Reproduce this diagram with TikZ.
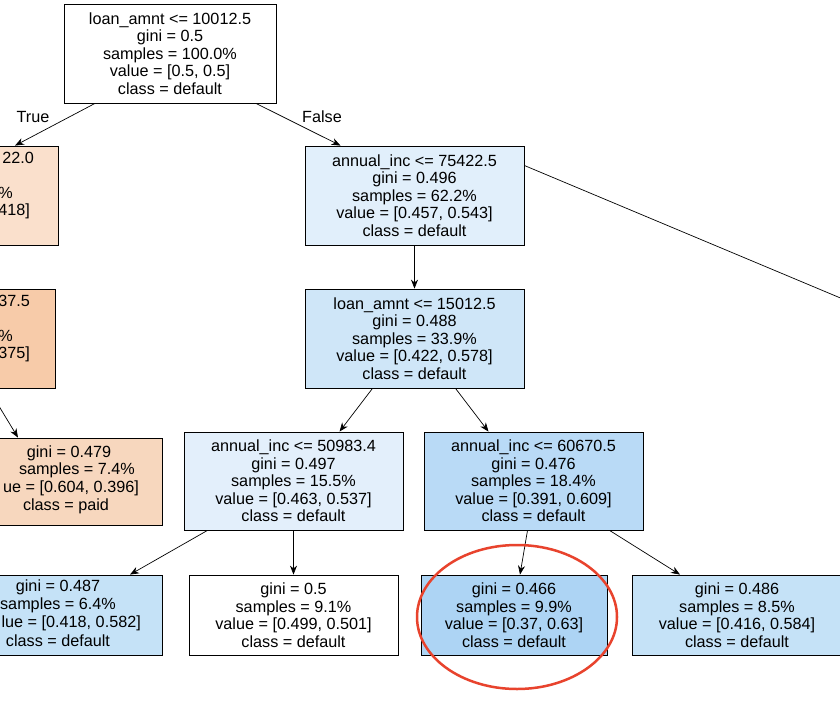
\documentclass[tikz,border=0pt]{standalone}
\usepackage{fontspec}
\setmainfont{Liberation Sans}
\usetikzlibrary{arrows.meta}
\definecolor{pk1}{HTML}{FAE0CC}
\definecolor{pk2}{HTML}{F7CBA9}
\definecolor{pk3}{HTML}{F7D7BE}
\definecolor{bl1}{HTML}{E1EFFB}
\definecolor{bl2}{HTML}{CFE6F8}
\definecolor{bl3}{HTML}{E3EFFB}
\definecolor{bl4}{HTML}{B9DAF6}
\definecolor{bl5}{HTML}{ADD4F4}
\definecolor{bl6}{HTML}{C5E2F7}
\definecolor{ring}{HTML}{E8432D}
\begin{document}
\begin{tikzpicture}[x=1pt,y=-1pt,
  box/.style={draw=black,line width=0.8pt,align=center,inner sep=0pt,font=\fontsize{16.2}{17.5}\selectfont},
  txt/.style={inner sep=0pt,font=\fontsize{16.2}{17.5}\selectfont},
  arr/.style={-{Stealth[length=9pt,width=7pt]},line width=0.7pt}]
\useasboundingbox (0,0) rectangle (840,717);
\clip (0,0) rectangle (840,717);
\fill[white] (0,0) rectangle (840,717);
% root
\node[box,fill=white,minimum width=212pt,minimum height=99pt] (r) at (170,53.5)
 {loan\_amnt <= 10012.5\\gini = 0.5\\samples = 100.0\%\\value = [0.5, 0.5]\\class = default};
% left clipped nodes
\node[box,fill=pk1,minimum width=120pt,minimum height=99pt] (l1) at (-2,195.5) {};
\node[txt,anchor=east] (l1a) at (34,158) {22.0};
\node[txt,anchor=east] (l1b) at (13,193) {\%};
\node[txt,anchor=east] (l1c) at (30,211) {418]};
\node[box,fill=pk2,minimum width=114pt,minimum height=99pt] (l2) at (-2,338.5) {};
\node[txt,anchor=east] (l2a) at (30,301) {37.5};
\node[txt,anchor=east] (l2b) at (13,336) {\%};
\node[txt,anchor=east] (l2c) at (30,354) {375]};
\node[box,fill=pk3,minimum width=200pt,minimum height=87pt] (l3) at (62,481.5) {};
\node[txt] (l3a) at (69,453) {gini = 0.479};
\node[txt,anchor=east] (l3b) at (135,470) {samples = 7.4\%};
\node[txt,anchor=east] (l3c) at (139,488) {ue = [0.604, 0.396]};
\node[txt] (l3d) at (66,506) {class = paid};
\node[box,fill=bl6,minimum width=200pt,minimum height=80pt] (l4) at (62,615) {};
\node[txt] (l4a) at (58,587) {gini = 0.487};
\node[txt] (l4b) at (58,605) {samples = 6.4\%};
\node[txt,anchor=east] (l4c) at (141,623) {lue = [0.418, 0.582]};
\node[txt] (l4d) at (58,641) {class = default};
% main tree
\node[box,fill=bl1,minimum width=219pt,minimum height=99pt] (a) at (414.5,195.5)
 {annual\_inc <= 75422.5\\gini = 0.496\\samples = 62.2\%\\value = [0.457, 0.543]\\class = default};
\node[box,fill=bl2,minimum width=219pt,minimum height=99pt] (b) at (414.5,338.5)
 {loan\_amnt <= 15012.5\\gini = 0.488\\samples = 33.9\%\\value = [0.422, 0.578]\\class = default};
\node[box,fill=bl3,minimum width=219pt,minimum height=98pt] (c) at (293.5,481)
 {annual\_inc <= 50983.4\\gini = 0.497\\samples = 15.5\%\\value = [0.463, 0.537]\\class = default};
\node[box,fill=bl4,minimum width=219pt,minimum height=98pt] (d) at (533.5,481)
 {annual\_inc <= 60670.5\\gini = 0.476\\samples = 18.4\%\\value = [0.391, 0.609]\\class = default};
\node[box,fill=white,minimum width=209pt,minimum height=80pt] (e) at (293.5,615)
 {gini = 0.5\\samples = 9.1\%\\value = [0.499, 0.501]\\class = default};
\node[box,fill=bl5,minimum width=186pt,minimum height=80pt] (f) at (514,615)
 {gini = 0.466\\samples = 9.9\%\\value = [0.37, 0.63]\\class = default};
\node[box,fill=bl6,minimum width=210pt,minimum height=80pt] (g) at (737,615)
 {gini = 0.486\\samples = 8.5\%\\value = [0.416, 0.584]\\class = default};
\coordinate (off1) at (850,302);
\coordinate (off2) at (-12,388);
% edges
\draw[arr] ([xshift=-75pt]r.south) -- ([xshift=17pt]l1.north);
\draw[arr] ([xshift=86pt]r.south) -- ([xshift=-74pt]a.north);
\node[txt] (tl) at (33,117) {True};
\node[txt] (fl) at (322,117) {False};
\draw[line width=0.7pt] ([yshift=30pt]a.east) -- (off1);
\draw[arr] (off2) -- ([xshift=-44pt]l3.north);
\draw[arr] (a.south) -- (b.south |- b.north);
\draw[arr] ([xshift=-42pt]b.south) -- ([xshift=46pt]c.north);
\draw[arr] ([xshift=41pt]b.south) -- ([xshift=-45pt]d.north);
\draw[arr] ([xshift=-86pt]c.south) -- ([xshift=68pt]l4.north);
\draw[arr] (c.south) -- (e.north);
\draw[arr] ([xshift=-6pt]d.south) -- ([xshift=6pt]f.north);
\draw[arr] ([xshift=76pt]d.south) -- ([xshift=-57pt]g.north);
\draw[ring,line width=2.5pt] (517,617) ellipse [x radius=100pt,y radius=72pt];
\end{tikzpicture}
\end{document}
